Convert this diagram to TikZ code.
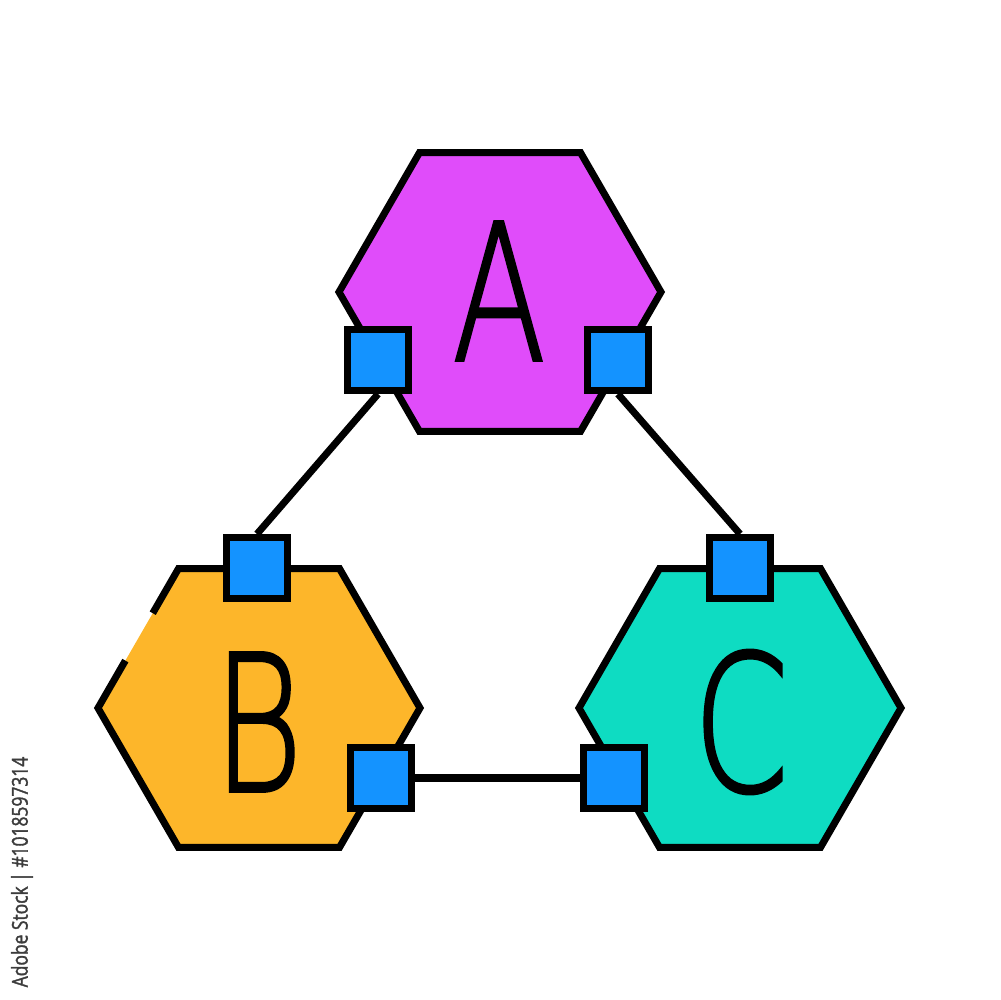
\documentclass[tikz,border=0pt]{standalone}
\usepackage{fontspec}
\usetikzlibrary{shapes.geometric,calc}
\IfFontExistsTF{DejaVu Sans ExtraLight}
  {\newfontfamily\letterfont{DejaVu Sans ExtraLight}[FakeBold=1.8]}
  {\newfontfamily\letterfont{DejaVu Sans}}
\IfFontExistsTF{Open Sans}
  {\newfontfamily\stockfont{Open Sans}[FakeStretch=0.8,FakeBold=1.5]}
  {\newfontfamily\stockfont{DejaVu Sans}[FakeStretch=0.75]}
\definecolor{hexA}{RGB}{224,76,250}
\definecolor{hexB}{RGB}{253,182,42}
\definecolor{hexC}{RGB}{14,220,194}
\definecolor{portblue}{RGB}{20,147,255}
\definecolor{stockgray}{RGB}{60,60,60}

\begin{document}
\begin{tikzpicture}[x=0.1mm,y=-0.1mm,
  hexnode/.style={regular polygon,regular polygon sides=6,minimum size=32.2mm,
    inner sep=0pt,outer sep=0pt,line width=2pt,line join=miter},
  port/.style={draw,line width=2pt,fill=portblue,minimum size=6.1mm,inner sep=0pt},
  wire/.style={line width=2pt},
  letter/.style={font=\letterfont\fontsize{54}{54}\selectfont,xscale=0.72,inner sep=0pt}]
\useasboundingbox (0,0) rectangle (1000,1000);
% hexagons
\node[hexnode,draw,fill=hexA] (A) at (500,292) {};
\node[hexnode,fill=hexB] (B) at (259,708) {};
\draw[wire,line join=miter] ($(B.120)!0.32!(B.180)$) -- (B.120) -- (B.60) -- (B.0)
  -- (B.300) -- (B.240) -- (B.180) -- ($(B.120)!0.66!(B.180)$);
\node[hexnode,draw,fill=hexC] (C) at (740,708) {};
% letters
\node[letter] (lA) at (499,291) {A};
\node[letter] (lB) at (258,722) {B};
\node[letter] (lC) at (741,722) {C};
% ports
\node[port] (aL) at (378,360) {};
\node[port] (aR) at (618,360) {};
\node[port] (bT) at (257,568) {};
\node[port] (bR) at (381,778) {};
\node[port] (cT) at (740,568) {};
\node[port] (cL) at (614,778) {};
% links
\draw[wire] (aL.south) -- (bT.north);
\draw[wire] (aR.south) -- (cT.north);
\draw[wire] (bR.east) -- (cL.west);
\node[rotate=90,font=\stockfont\fontsize{6.2}{6.2}\selectfont,text=stockgray] (stockid) at (22,872) {Adobe Stock | \#1018597314};
\end{tikzpicture}
\end{document}
